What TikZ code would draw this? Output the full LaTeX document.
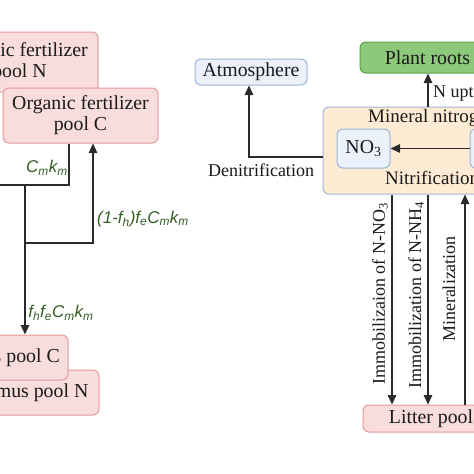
\documentclass[tikz,border=0pt]{standalone}
\usepackage{fontspec}
\setmainfont{Liberation Serif}
\newfontfamily\grnfont{Liberation Sans}
\usetikzlibrary{arrows.meta}
\definecolor{pinkfill}{HTML}{F9DCDC}
\definecolor{pinkline}{HTML}{E39A9A}
\definecolor{bluefill}{HTML}{EAF1FB}
\definecolor{blueline}{HTML}{9FB3D6}
\definecolor{orfill}{HTML}{FDEBD3}
\definecolor{greenfill}{HTML}{8CC97A}
\definecolor{greenline}{HTML}{5C9E4D}
\definecolor{lbl}{HTML}{355F25}
\definecolor{ink}{HTML}{1A1A1A}
\definecolor{wire}{HTML}{2A2A2A}
\tikzset{
  box/.style={draw, line width=1pt, rounded corners=6pt, align=center, inner sep=0pt,
    font=\fontsize{19.8}{21}\selectfont, text=ink},
  pinkbox/.style={box, fill=pinkfill, draw=pinkline},
  bluebox/.style={box, fill=bluefill, draw=blueline},
  orbox/.style={box, fill=orfill, draw=blueline},
  greenbox/.style={box, fill=greenfill, draw=greenline},
  lab/.style={font=\fontsize{18}{20}\selectfont, text=ink, inner sep=0pt},
  glab/.style={font=\grnfont\itshape\fontsize{17}{19}\selectfont, text=lbl, inner sep=0pt},
  wireline/.style={draw=wire, line width=1.3pt},
  arr/.style={wireline, -{Triangle[width=8.5pt,length=9.5pt]}},
}
\begin{document}
\begin{tikzpicture}[x=1pt,y=-1pt]
\useasboundingbox (0,0) rectangle (474,474);
\fill[white] (0,0) rectangle (474,474);
\clip (0,0) rectangle (474,474);
% left part
\node[pinkbox, minimum width=157pt, minimum height=60pt] (fertN) at (19.5,62) {Organic fertilizer\\pool N};
\node[pinkbox, minimum width=155pt, minimum height=55pt] (fertC) at (80.5,115.5) {Organic fertilizer\\pool C};
\node[pinkbox, minimum width=138pt, minimum height=45pt] (humN) at (30,392.5) {Humus pool N};
\node[pinkbox, minimum width=132pt, minimum height=45pt] (humC) at (2,357.5) {Humus pool C};
\coordinate (j1) at (69,185);
\coordinate (cmOut) at (-10,185);
\coordinate (j2) at (25,185);
\coordinate (j3) at (25,243);
\coordinate (j4) at (93,243);
\draw[wireline] (fertC.south -| j1) -- (j1) -- (cmOut);
\draw[arr] (j2) -- (humC.north -| j2);
\draw[arr] (j3) -- (j4) -- (fertC.south -| j4);
\node[glab] (l1) at (47,168) {C\textsubscript{m}k\textsubscript{m}};
\node[glab] (l2) at (143,219) {(1-f\textsubscript{h})f\textsubscript{e}C\textsubscript{m}k\textsubscript{m}};
\node[glab] (l3) at (61,313) {f\textsubscript{h}f\textsubscript{e}C\textsubscript{m}k\textsubscript{m}};
% right part
\node[bluebox, minimum width=112pt, minimum height=26pt] (atm) at (251,72) {Atmosphere};
\node[greenbox, minimum width=135pt, minimum height=31pt] (roots) at (427.5,57.5) {Plant roots};
\node[orbox, minimum width=237pt, minimum height=87pt] (mineral) at (441.5,150.5) {};
\node[lab, anchor=west, font=\fontsize{19}{20}\selectfont] (mintxt) at (368,118) {Mineral nitrogen};
\node[bluebox, minimum width=53pt, minimum height=39pt] (no3) at (363.5,148.5) {NO\textsubscript{3}};
\node[bluebox, minimum width=60pt, minimum height=39pt] (nh4) at (500,148.5) {};
\node[lab, anchor=west, font=\fontsize{19}{20}\selectfont] (nitr) at (385,178) {Nitrification};
\draw[arr] (nh4.west) -- (no3.east);
\node[pinkbox, minimum width=136pt, minimum height=27pt] (litter) at (431,418.5) {Litter pool};
\coordinate (den) at (249,157);
\draw[arr] (mineral.west |- den) -- (den) -- (atm.south -| den);
\node[lab] (denl) at (261,170) {Denitrification};
\coordinate (up) at (428,0);
\draw[arr] (mineral.north -| up) -- (roots.south -| up);
\node[lab, anchor=west] (upl) at (433,93) {N uptake};
\coordinate (v1) at (392,0);
\coordinate (v2) at (428,0);
\coordinate (v3) at (465,0);
\draw[arr] (mineral.south -| v1) -- (litter.north -| v1);
\draw[arr] (mineral.south -| v2) -- (litter.north -| v2);
\draw[arr] (litter.north -| v3) -- (mineral.south -| v3);
\node[lab, rotate=90] (im1) at (380,294) {Immobilizaion of N-NO\textsubscript{3}};
\node[lab, rotate=90] (im2) at (416,295) {Immobilization of N-NH\textsubscript{4}};
\node[lab, rotate=90] (minl) at (449,289) {Mineralization};
\end{tikzpicture}
\end{document}
